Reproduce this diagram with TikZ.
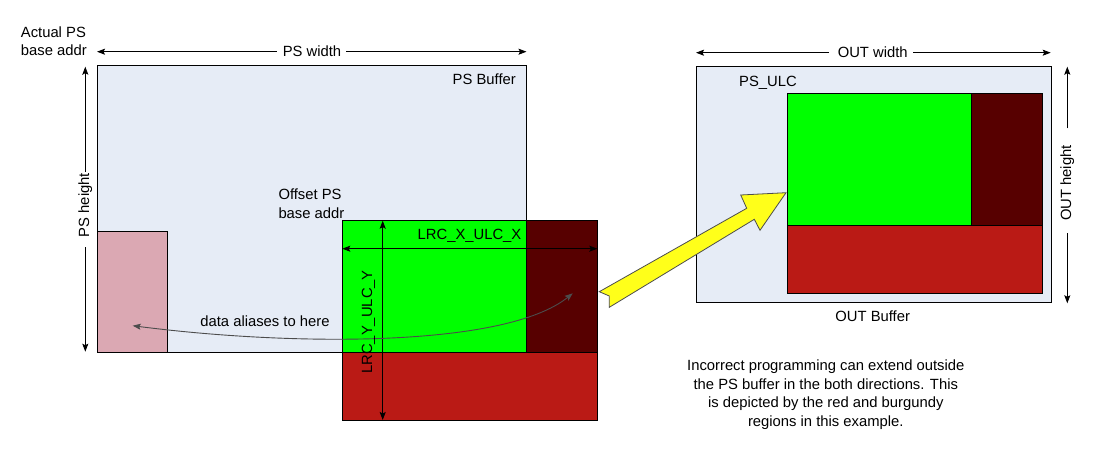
\documentclass[tikz,border=0pt]{standalone}
\usepackage{fontspec}
\setmainfont{Liberation Sans}
\usetikzlibrary{arrows.meta}
\definecolor{psbg}{RGB}{230,236,246}
\definecolor{pinkr}{RGB}{219,168,179}
\definecolor{grn}{RGB}{0,255,0}
\definecolor{burg}{RGB}{87,0,0}
\definecolor{redr}{RGB}{186,26,21}
\definecolor{yel}{RGB}{255,255,26}
\begin{document}
\begin{tikzpicture}[x=1pt,y=-1pt,
  box/.style={draw=black,line width=1pt},
  dimline/.style={draw=black,line width=0.9pt},
  onetip/.style={dimline,-{Stealth[length=8pt,width=6pt,inset=1.5pt]}},
  twotip/.style={dimline,{Stealth[length=8pt,width=6pt,inset=1.5pt]}-{Stealth[length=8pt,width=6pt,inset=1.5pt]}},
  lbl/.style={inner sep=0pt,font=\fontsize{14.8}{18.7}\selectfont},
  ]
\path[use as bounding box] (0,0) rectangle (1119,457);

% ---------- PS buffer ----------
\draw[box,fill=psbg] (97.3,65.3) rectangle (526.7,352.3);
\draw[box,fill=pinkr] (97.3,231.3) rectangle (167.3,352.3);
\draw[box,fill=grn] (342.3,220.7) rectangle (526.7,352.3);
\draw[box,fill=burg] (526.7,220.7) rectangle (597.3,352.3);
\draw[box,fill=redr] (342.3,352.3) rectangle (597.3,420);

% ---------- OUT buffer ----------
\draw[box,fill=psbg] (696.7,66.7) rectangle (1051,302.5);
\draw[box,fill=grn] (787.3,93.3) rectangle (971.3,225.5);
\draw[box,fill=burg] (971.3,93.3) rectangle (1042.5,225.5);
\draw[box,fill=redr] (787.3,225.5) rectangle (1042.5,293.3);

% ---------- coordinates ----------
\coordinate (pswL) at (97,51.7);
\coordinate (pswR) at (526.5,51.7);
\coordinate (pswGL) at (276.8,51.7);
\coordinate (pswGR) at (346.4,51.7);
\coordinate (pshT) at (85.3,66.7);
\coordinate (pshB) at (85.3,351.7);
\coordinate (pshGT) at (85.3,172);
\coordinate (pshGB) at (85.3,247.3);
\coordinate (lrcxL) at (342.3,248.7);
\coordinate (lrcxR) at (597.3,248.7);
\coordinate (lrcyT) at (382.7,220.7);
\coordinate (lrcyB) at (382.7,420);
\coordinate (owL) at (696,52.7);
\coordinate (owR) at (1050.7,52.7);
\coordinate (owGL) at (829,52.7);
\coordinate (owGR) at (913.3,52.7);
\coordinate (ohT) at (1067.3,66.7);
\coordinate (ohB) at (1067.3,303.3);
\coordinate (ohGT) at (1067.3,128.3);
\coordinate (ohGB) at (1067.3,233.3);
\coordinate (aliasL) at (132.7,325.7);
\coordinate (aliasR) at (572.7,293.3);

% ---------- dimension arrows ----------
\draw[onetip] (pswGL) -- (pswL);
\draw[onetip] (pswGR) -- (pswR);
\draw[onetip] (pshGT) -- (pshT);
\draw[onetip] (pshGB) -- (pshB);
\draw[onetip] (owGL) -- (owL);
\draw[onetip] (owGR) -- (owR);
\draw[onetip] (ohGT) -- (ohT);
\draw[onetip] (ohGB) -- (ohB);
\draw[twotip] (lrcxL) -- (lrcxR);
\draw[twotip] (lrcyT) -- (lrcyB);

% ---------- alias curve ----------
\draw[twotip,draw=black!70] (aliasL) .. controls (290,346) and (505,348) .. (aliasR);

% ---------- yellow block arrow ----------
\draw[fill=yel,draw=black!70,line width=0.8pt,line join=miter]
  (599.3,291.7) -- (746.7,208.3) -- (740.7,195) -- (786,192.7) --
  (760,230.3) -- (754.3,219.3) -- (609.3,307.3) -- (609.3,296) -- cycle;

% ---------- labels ----------
\node[lbl,align=left,anchor=west,font=\fontsize{14.8}{17.7}\selectfont] (actual) at (20.7,41.5) {Actual PS\\base addr};
\node[lbl] (pswidth) at (312,51.7) {PS width};
\node[lbl,rotate=90] (psheight) at (85.3,205) {PS height};
\node[lbl,anchor=east] (psbuf) at (516,79) {PS Buffer};
\node[lbl,align=left,anchor=west] (offset) at (278.3,203.7) {Offset PS\\base addr};
\node[lbl] (lrcx) at (469.5,235.7) {LRC\_X\_ULC\_X};
\node[lbl,rotate=90] (lrcy) at (368.3,322) {LRC\_Y\_ULC\_Y};
\node[lbl] (alias) at (265,321) {data aliases to here};
\node[lbl] (outwidth) at (872.7,52.7) {OUT width};
\node[lbl,rotate=90] (outheight) at (1067.3,183) {OUT height};
\node[lbl] (psulc) at (768,82.7) {PS\_ULC};
\node[lbl] (outbuf) at (872.7,316.7) {OUT Buffer};
\node[lbl,align=center] (note) at (825.8,394.7) {Incorrect programming can extend outside\\the PS buffer in the both directions. This\\is depicted by the red and burgundy\\regions in this example.};
\end{tikzpicture}
\end{document}
